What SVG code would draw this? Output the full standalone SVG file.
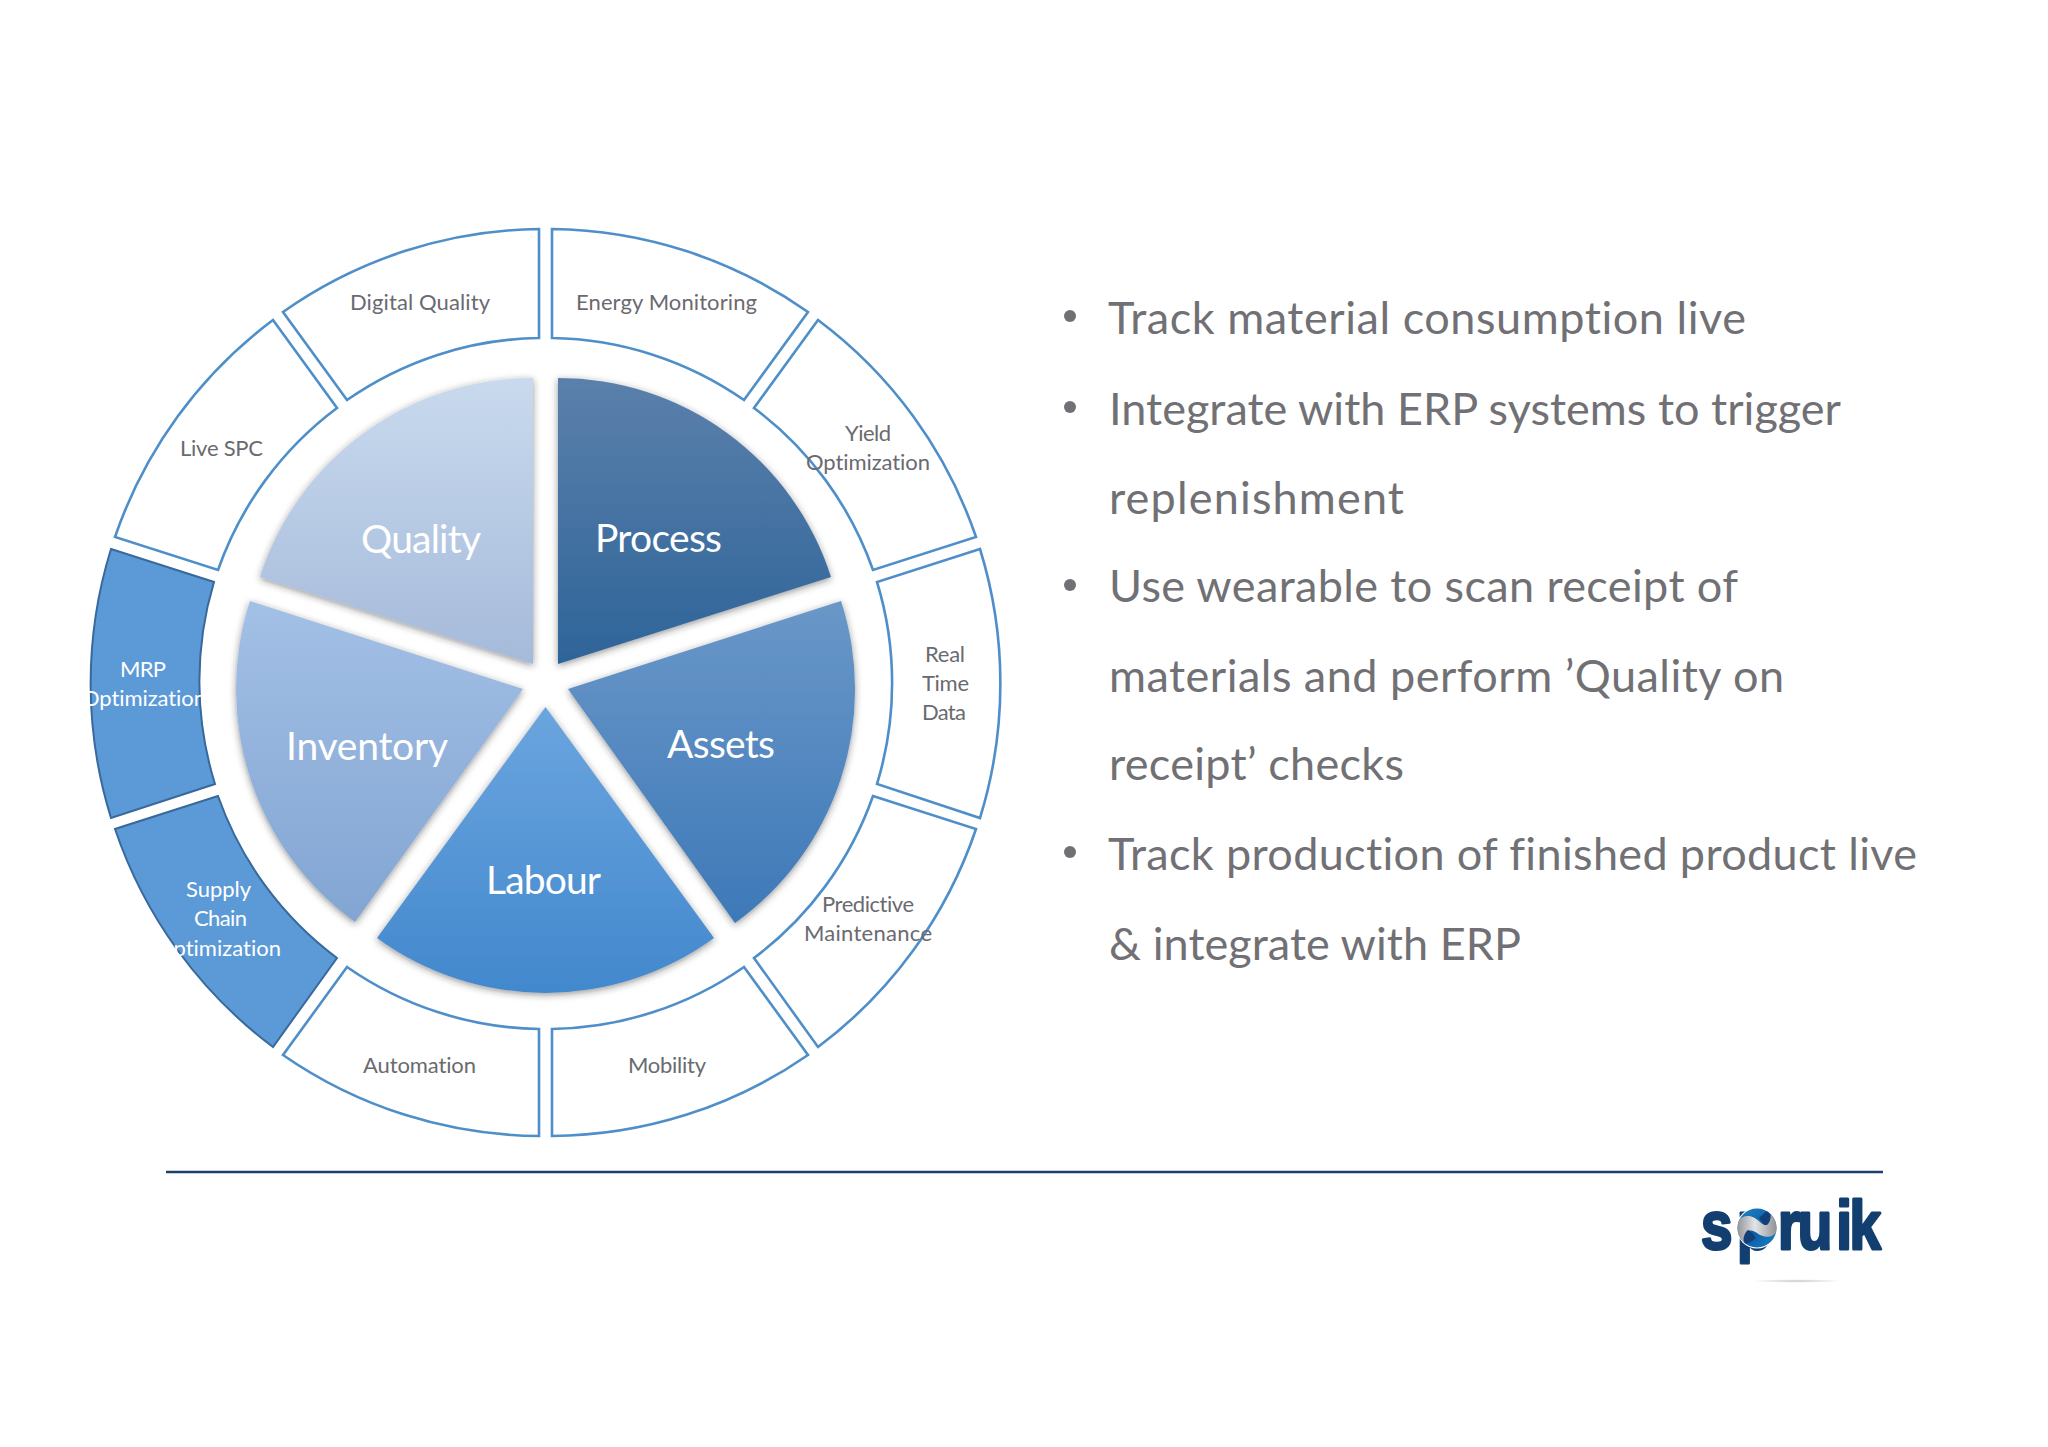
<svg xmlns="http://www.w3.org/2000/svg" width="2048" height="1447" viewBox="0 0 2048 1447">
<defs>
<style>
text{font-family:"Lato","Open Sans","Liberation Sans",sans-serif;font-variant-ligatures:none}
.seg{fill:#fff;stroke:#4f8fc9;stroke-width:2.6;stroke-linejoin:miter}
.hot{fill:#5b9ad6;stroke:#38699c;stroke-width:2}
.sm{font-size:22px;fill:#6a6a70}
.smw{font-size:22px;fill:#fff}
.big{font-size:39px;fill:#fff}
.body{font-size:45px;fill:#717074}
.dot{fill:#717074}
.logo{font-family:"Liberation Sans",Arial,sans-serif;font-weight:700;font-size:69px;fill:#123f70;stroke:#123f70;stroke-width:3;stroke-linejoin:round}
</style>
<filter id="sh" x="-15%" y="-15%" width="130%" height="130%"><feDropShadow dx="0" dy="2" stdDeviation="3.5" flood-color="#2a2a2a" flood-opacity="0.5"/></filter>
<linearGradient id="gP" x1="0" y1="0" x2="0" y2="1"><stop offset="0" stop-color="#5b80ab"/><stop offset="1" stop-color="#2e6499"/></linearGradient>
<linearGradient id="gA" x1="0" y1="0" x2="0" y2="1"><stop offset="0" stop-color="#6a97c8"/><stop offset="1" stop-color="#3d79b8"/></linearGradient>
<linearGradient id="gL" x1="0" y1="0" x2="0" y2="1"><stop offset="0" stop-color="#6ba5df"/><stop offset="1" stop-color="#4288cd"/></linearGradient>
<linearGradient id="gI" x1="0" y1="0" x2="0" y2="1"><stop offset="0" stop-color="#a3c0e6"/><stop offset="1" stop-color="#82a5d2"/></linearGradient>
<linearGradient id="gQ" x1="0" y1="0" x2="0" y2="1"><stop offset="0" stop-color="#c9daee"/><stop offset="1" stop-color="#a5bada"/></linearGradient>
<linearGradient id="gB" x1="0" y1="0" x2="1" y2="1"><stop offset="0" stop-color="#1f86c8"/><stop offset="0.55" stop-color="#0f5ea8"/><stop offset="1" stop-color="#1583c6"/></linearGradient>
<linearGradient id="gS" x1="0" y1="0" x2="1" y2="0"><stop offset="0" stop-color="#8d8f93"/><stop offset="0.45" stop-color="#e3e4e6"/><stop offset="1" stop-color="#8a8c90"/></linearGradient>
<radialGradient id="gU"><stop offset="0" stop-color="#c9c9c9"/><stop offset="1" stop-color="#ffffff"/></radialGradient>
<clipPath id="ball"><circle cx="1757" cy="1228" r="19.5"/></clipPath>
</defs>
<rect width="2048" height="1447" fill="#fff"/>

<g transform="translate(0 1)">
<g id="digital-quality"><path class="seg" d="M539,228L539,337A345,345 0 0 0 347,399L283,311A454,454 0 0 1 539,228Z"/><text class="sm" x="350" y="309" textLength="140">Digital Quality</text></g>
<g id="energy-monitoring"><path class="seg" d="M552,228L552,337A345,345 0 0 1 744,399L808,311A454,454 0 0 0 552,228Z"/><text class="sm" x="576" y="309" textLength="181">Energy Monitoring</text></g>
<g id="yield-optimization"><path class="seg" d="M818,319L754,407A345,345 0 0 1 873,569L976,536A454,454 0 0 0 818,319Z"/><text class="sm" x="845" y="440" textLength="46">Yield</text><text class="sm" x="806" y="469" textLength="124">Optimization</text></g>
<g id="real-time-data"><path class="seg" d="M980,548L877,581A345,345 0 0 1 877,783L980,817A454,454 0 0 0 980,548Z"/><text class="sm" x="925" y="661" textLength="40">Real</text><text class="sm" x="922" y="690" textLength="47">Time</text><text class="sm" x="922" y="719" textLength="44">Data</text></g>
<g id="predictive-maintenance"><path class="seg" d="M873,795L976,828A454,454 0 0 1 818,1046L754,957A345,345 0 0 0 873,795Z"/><text class="sm" x="822" y="911" textLength="92">Predictive</text><text class="sm" x="804" y="940" textLength="128">Maintenance</text></g>
<g id="mobility"><path class="seg" d="M744,966L808,1054A454,454 0 0 1 552,1135L552,1028A345,345 0 0 0 744,966Z"/><text class="sm" x="628" y="1072" textLength="78">Mobility</text></g>
<g id="automation"><path class="seg" d="M347,966L283,1054A454,454 0 0 0 539,1135L539,1028A345,345 0 0 1 347,966Z"/><text class="sm" x="363" y="1072" textLength="113">Automation</text></g>
<g id="supply-chain"><path class="hot" d="M218,795L115,828A454,454 0 0 0 273,1046L337,957A345,345 0 0 1 218,795Z"/><text class="smw" x="186" y="896" textLength="65">Supply</text><text class="smw" x="194" y="925" textLength="53">Chain</text><text class="smw" x="156" y="955" textLength="125">Optimization</text></g>
<g id="mrp-optimization"><path class="hot" d="M111,548L214,581A345,345 0 0 0 215,783L111,817A454,454 0 0 1 111,548Z"/><text class="smw" x="120" y="676" textLength="46">MRP</text><text class="smw" x="82" y="705" textLength="124">Optimization</text></g>
<g id="live-spc"><path class="seg" d="M273,319L337,407A345,345 0 0 0 218,569L115,536A454,454 0 0 1 273,319Z"/><text class="sm" x="180" y="455" textLength="83">Live SPC</text></g>

<g id="process"><path fill="url(#gP)" filter="url(#sh)" d="M558,663L558,377A286,286 0 0 1 831,576Z"/><text class="big" x="595" y="551" textLength="127">Process</text></g>
<g id="assets"><path fill="url(#gA)" filter="url(#sh)" d="M568,688L841,600A287,287 0 0 1 735,922Z"/><text class="big" x="667" y="757" textLength="108">Assets</text></g>
<g id="labour"><path fill="url(#gL)" filter="url(#sh)" d="M545.5,706L714,937A286,286 0 0 1 377,937Z"/><text class="big" x="486" y="893" textLength="115">Labour</text></g>
<g id="inventory"><path fill="url(#gI)" filter="url(#sh)" d="M523,688L355,921A287,287 0 0 1 250,600Z"/><text class="big" x="286" y="759" textLength="162">Inventory</text></g>
<g id="quality"><path fill="url(#gQ)" filter="url(#sh)" d="M533,663L260,576A286,286 0 0 1 533,377Z"/><text class="big" x="361" y="552" textLength="120">Quality</text></g>
</g>

<g id="bullets">
<circle class="dot" cx="1070" cy="316" r="6"/><circle class="dot" cx="1070" cy="407" r="6"/><circle class="dot" cx="1070" cy="585" r="6"/><circle class="dot" cx="1070" cy="852" r="6"/>
<text class="body" x="1108" y="334" textLength="638">Track material consumption live</text>
<text class="body" x="1109" y="425" textLength="732">Integrate with ERP systems to trigger</text>
<text class="body" x="1109" y="514" textLength="295">replenishment</text>
<text class="body" x="1109" y="602" textLength="629">Use wearable to scan receipt of</text>
<text class="body" x="1109" y="692" textLength="675">materials and perform ’Quality on</text>
<text class="body" x="1109" y="780" textLength="295">receipt’ checks</text>
<text class="body" x="1108" y="870" textLength="809">Track production of finished product live</text>
<text class="body" x="1109" y="960" textLength="412">&amp; integrate with ERP</text>
</g>

<line id="rule" x1="166" y1="1172" x2="1883" y2="1172" stroke="#1c3f6e" stroke-width="2.6"/>

<g id="logo">
<text class="logo" transform="translate(1701 1249) scale(.82 1)" x="0 44 94 118 165 181" y="0">spruik</text>
<circle cx="1757" cy="1228" r="20.5" fill="#fff"/>
<circle cx="1757" cy="1228" r="19.5" fill="url(#gB)"/>
<g clip-path="url(#ball)">
<path d="M1736,1222C1745,1212 1754,1216 1760,1222C1765,1227 1770,1226 1771,1214L1778,1222C1779,1238 1766,1240 1757,1233C1750,1228 1745,1230 1745,1244L1736,1238Z" fill="url(#gS)"/>
<path d="M1767,1211C1772,1213 1771,1222 1767,1225C1763,1226 1761,1220 1759,1218C1762,1215 1764,1213 1767,1211Z" fill="#123f78"/>
<path d="M1745,1244C1742,1240 1744,1233 1748,1230C1752,1231 1754,1236 1756,1238C1753,1241 1749,1243 1745,1244Z" fill="#123f78"/>
</g>
<ellipse cx="1797" cy="1281" rx="46" ry="1.8" fill="url(#gU)"/>
</g>
</svg>
